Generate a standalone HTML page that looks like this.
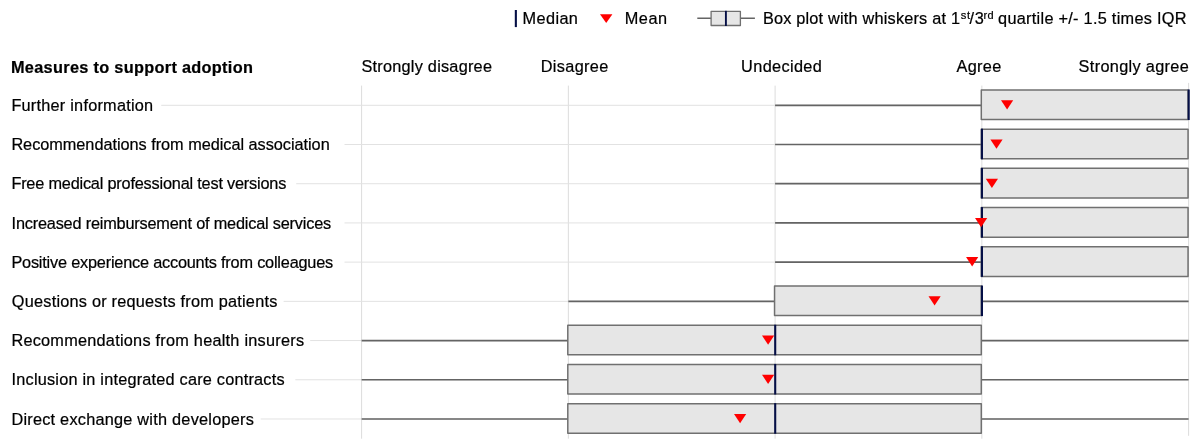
<!DOCTYPE html>
<html><head><meta charset="utf-8"><title>Measures to support adoption</title>
<style>
html,body{margin:0;padding:0;background:#fff;}
body{width:1199px;height:440px;overflow:hidden;position:relative;}
svg{position:absolute;left:0;top:0;display:block;will-change:transform;}
text{font-family:"Liberation Sans",Arial,sans-serif;fill:#000;stroke:#000;stroke-width:0.22px;}
</style></head><body>
<svg width="1199" height="440" viewBox="0 0 1199 440">

<line x1="361.60" y1="85.6" x2="361.60" y2="438.7" stroke="#dcdcdc" stroke-width="1"/>
<line x1="568.35" y1="85.6" x2="568.35" y2="438.7" stroke="#dcdcdc" stroke-width="1"/>
<line x1="775.10" y1="85.6" x2="775.10" y2="438.7" stroke="#dcdcdc" stroke-width="1"/>
<line x1="981.85" y1="85.6" x2="981.85" y2="438.7" stroke="#dcdcdc" stroke-width="1"/>
<line x1="1188.60" y1="82.9" x2="1188.60" y2="435.8" stroke="#dcdcdc" stroke-width="1"/>
<line x1="161.2" y1="105.30" x2="1188.60" y2="105.30" stroke="#e2e2e2" stroke-width="1"/>
<line x1="775.10" y1="105.30" x2="981.85" y2="105.30" stroke="#646464" stroke-width="1.7"/>
<rect x="981.30" y="89.95" width="206.75" height="29.6" fill="#e6e6e6" stroke="#707070" stroke-width="1.5" stroke-linejoin="round"/>
<line x1="1188.70" y1="89.45" x2="1188.70" y2="120.05" stroke="#050f46" stroke-width="2.1"/>
<path d="M1001.00 100.25 h12.2 l-6.1 9.3 z" fill="#ff0000"/>
<text x="11.39" y="110.95" font-size="16.3" textLength="141.76" lengthAdjust="spacing">Further information</text>
<line x1="344.5" y1="144.51" x2="1188.60" y2="144.51" stroke="#e2e2e2" stroke-width="1"/>
<line x1="775.10" y1="144.51" x2="981.85" y2="144.51" stroke="#646464" stroke-width="1.7"/>
<rect x="981.30" y="129.16" width="206.75" height="29.6" fill="#e6e6e6" stroke="#707070" stroke-width="1.5" stroke-linejoin="round"/>
<line x1="981.95" y1="128.66" x2="981.95" y2="159.26" stroke="#050f46" stroke-width="2.1"/>
<path d="M990.40 139.46 h12.2 l-6.1 9.3 z" fill="#ff0000"/>
<text x="11.39" y="150.16" font-size="16.3" textLength="318.31" lengthAdjust="spacing">Recommendations from medical association</text>
<line x1="296.2" y1="183.72" x2="1188.60" y2="183.72" stroke="#e2e2e2" stroke-width="1"/>
<line x1="775.10" y1="183.72" x2="981.85" y2="183.72" stroke="#646464" stroke-width="1.7"/>
<rect x="981.30" y="168.37" width="206.75" height="29.6" fill="#e6e6e6" stroke="#707070" stroke-width="1.5" stroke-linejoin="round"/>
<line x1="981.95" y1="167.87" x2="981.95" y2="198.47" stroke="#050f46" stroke-width="2.1"/>
<path d="M985.80 178.67 h12.2 l-6.1 9.3 z" fill="#ff0000"/>
<text x="11.39" y="189.37" font-size="16.3" textLength="274.91" lengthAdjust="spacing">Free medical professional test versions</text>
<line x1="344.5" y1="222.93" x2="1188.60" y2="222.93" stroke="#e2e2e2" stroke-width="1"/>
<line x1="775.10" y1="222.93" x2="981.85" y2="222.93" stroke="#646464" stroke-width="1.7"/>
<rect x="981.30" y="207.58" width="206.75" height="29.6" fill="#e6e6e6" stroke="#707070" stroke-width="1.5" stroke-linejoin="round"/>
<line x1="981.95" y1="207.08" x2="981.95" y2="237.68" stroke="#050f46" stroke-width="2.1"/>
<path d="M975.00 217.88 h12.2 l-6.1 9.3 z" fill="#ff0000"/>
<text x="11.56" y="228.58" font-size="16.3" textLength="319.59" lengthAdjust="spacing">Increased reimbursement of medical services</text>
<line x1="344.5" y1="262.14" x2="1188.60" y2="262.14" stroke="#e2e2e2" stroke-width="1"/>
<line x1="775.10" y1="262.14" x2="981.85" y2="262.14" stroke="#646464" stroke-width="1.7"/>
<rect x="981.30" y="246.79" width="206.75" height="29.6" fill="#e6e6e6" stroke="#707070" stroke-width="1.5" stroke-linejoin="round"/>
<line x1="981.95" y1="246.29" x2="981.95" y2="276.89" stroke="#050f46" stroke-width="2.1"/>
<path d="M966.05 257.09 h12.2 l-6.1 9.3 z" fill="#ff0000"/>
<text x="11.39" y="267.79" font-size="16.3" textLength="321.82" lengthAdjust="spacing">Positive experience accounts from colleagues</text>
<line x1="283.6" y1="301.35" x2="1188.60" y2="301.35" stroke="#e2e2e2" stroke-width="1"/>
<line x1="568.35" y1="301.35" x2="775.10" y2="301.35" stroke="#646464" stroke-width="1.7"/>
<line x1="981.85" y1="301.35" x2="1188.60" y2="301.35" stroke="#646464" stroke-width="1.7"/>
<rect x="774.55" y="286.00" width="206.75" height="29.6" fill="#e6e6e6" stroke="#707070" stroke-width="1.5" stroke-linejoin="round"/>
<line x1="981.95" y1="285.50" x2="981.95" y2="316.10" stroke="#050f46" stroke-width="2.1"/>
<path d="M928.50 296.30 h12.2 l-6.1 9.3 z" fill="#ff0000"/>
<text x="11.84" y="307.0" font-size="16.3" textLength="265.48" lengthAdjust="spacing">Questions or requests from patients</text>
<line x1="310.2" y1="340.56" x2="1188.60" y2="340.56" stroke="#e2e2e2" stroke-width="1"/>
<line x1="361.60" y1="340.56" x2="568.35" y2="340.56" stroke="#646464" stroke-width="1.7"/>
<line x1="981.85" y1="340.56" x2="1188.60" y2="340.56" stroke="#646464" stroke-width="1.7"/>
<rect x="567.80" y="325.21" width="413.50" height="29.6" fill="#e6e6e6" stroke="#707070" stroke-width="1.5" stroke-linejoin="round"/>
<line x1="775.20" y1="324.71" x2="775.20" y2="355.31" stroke="#050f46" stroke-width="2.1"/>
<path d="M762.00 335.51 h12.2 l-6.1 9.3 z" fill="#ff0000"/>
<text x="11.39" y="346.21" font-size="16.3" textLength="292.64" lengthAdjust="spacing">Recommendations from health insurers</text>
<line x1="295.3" y1="379.77" x2="1188.60" y2="379.77" stroke="#e2e2e2" stroke-width="1"/>
<line x1="361.60" y1="379.77" x2="568.35" y2="379.77" stroke="#646464" stroke-width="1.7"/>
<line x1="981.85" y1="379.77" x2="1188.60" y2="379.77" stroke="#646464" stroke-width="1.7"/>
<rect x="567.80" y="364.42" width="413.50" height="29.6" fill="#e6e6e6" stroke="#707070" stroke-width="1.5" stroke-linejoin="round"/>
<line x1="775.20" y1="363.92" x2="775.20" y2="394.52" stroke="#050f46" stroke-width="2.1"/>
<path d="M762.00 374.72 h12.2 l-6.1 9.3 z" fill="#ff0000"/>
<text x="11.56" y="385.42" font-size="16.3" textLength="273.04" lengthAdjust="spacing">Inclusion in integrated care contracts</text>
<line x1="260.7" y1="418.98" x2="1188.60" y2="418.98" stroke="#e2e2e2" stroke-width="1"/>
<line x1="361.60" y1="418.98" x2="568.35" y2="418.98" stroke="#646464" stroke-width="1.7"/>
<line x1="981.85" y1="418.98" x2="1188.60" y2="418.98" stroke="#646464" stroke-width="1.7"/>
<rect x="567.80" y="403.63" width="413.50" height="29.6" fill="#e6e6e6" stroke="#707070" stroke-width="1.5" stroke-linejoin="round"/>
<line x1="775.20" y1="403.13" x2="775.20" y2="433.73" stroke="#050f46" stroke-width="2.1"/>
<path d="M734.00 413.93 h12.2 l-6.1 9.3 z" fill="#ff0000"/>
<text x="11.39" y="424.63" font-size="16.3" textLength="242.45" lengthAdjust="spacing">Direct exchange with developers</text>
<text x="11.00" y="72.6" font-size="16.3" textLength="241.89" lengthAdjust="spacing" font-weight="bold">Measures to support adoption</text>
<text x="361.45" y="71.9" font-size="16.3" textLength="130.50" lengthAdjust="spacing">Strongly disagree</text>
<text x="540.75" y="71.9" font-size="16.3" textLength="67.53" lengthAdjust="spacing">Disagree</text>
<text x="741.11" y="71.9" font-size="16.3" textLength="80.74" lengthAdjust="spacing">Undecided</text>
<text x="956.46" y="71.9" font-size="16.3" textLength="44.87" lengthAdjust="spacing">Agree</text>
<text x="1078.61" y="71.9" font-size="16.3" textLength="110.14" lengthAdjust="spacing">Strongly agree</text>
<line x1="515.85" y1="10" x2="515.85" y2="27.1" stroke="#050f46" stroke-width="2.1"/>
<text x="522.59" y="23.8" font-size="16.3" textLength="55.31" lengthAdjust="spacing">Median</text>
<path d="M600 14.3 h12.4 l-6.2 8.8 z" fill="#ff0000"/>
<text x="624.75" y="23.8" font-size="16.3" textLength="42.36" lengthAdjust="spacing">Mean</text>
<line x1="697.3" y1="18.3" x2="754.9" y2="18.3" stroke="#646464" stroke-width="1.5"/>
<rect x="711.1" y="11.3" width="29.3" height="14.2" fill="#e6e6e6" stroke="#707070" stroke-width="1.3" stroke-linejoin="round"/>
<line x1="725.9" y1="10.8" x2="725.9" y2="26" stroke="#050f46" stroke-width="1.9"/>
<text x="762.91" y="23.8" font-size="16.3" textLength="197.04" lengthAdjust="spacing">Box plot with whiskers at 1</text>
<text x="960.76" y="18.7" font-size="11.2" textLength="9.40" lengthAdjust="spacing">st</text>
<text x="969.53" y="23.8" font-size="16.3" textLength="14.26" lengthAdjust="spacing">/3</text>
<text x="983.39" y="18.7" font-size="11" textLength="10.29" lengthAdjust="spacing">rd</text>
<text x="998.09" y="23.8" font-size="16.3" textLength="188.37" lengthAdjust="spacing">quartile +/- 1.5 times IQR</text>
</svg></body></html>
